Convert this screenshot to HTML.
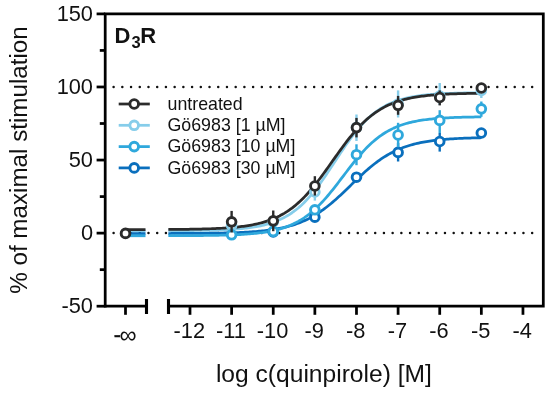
<!DOCTYPE html>
<html><head><meta charset="utf-8"><title>D3R</title>
<style>html,body{margin:0;padding:0;background:#fff}svg{display:block}</style></head>
<body>
<svg width="550" height="394" viewBox="0 0 550 394" font-family="'Liberation Sans', sans-serif" fill="#111">
<rect width="550" height="394" fill="#fff"/>
<line x1="113.6" y1="86.97" x2="536" y2="86.97" stroke="#111" stroke-width="2.5" stroke-linecap="round" stroke-dasharray="0 8.72"/>
<line x1="113.6" y1="233.12" x2="536" y2="233.12" stroke="#111" stroke-width="2.5" stroke-linecap="round" stroke-dasharray="0 8.72"/>
<path d="M125.5 230.79H145.5" fill="none" stroke="#86cdea" stroke-width="2.75"/>
<path d="M168.36 230.70L169.92 230.69L171.49 230.69L173.05 230.68L174.62 230.67L176.18 230.66L177.75 230.65L179.31 230.65L180.88 230.63L182.44 230.62L184.01 230.61L185.57 230.60L187.14 230.59L188.70 230.57L190.27 230.56L191.83 230.54L193.40 230.52L194.96 230.50L196.53 230.48L198.09 230.46L199.66 230.44L201.22 230.41L202.79 230.39L204.35 230.36L205.92 230.33L207.48 230.30L209.05 230.26L210.61 230.22L212.18 230.18L213.74 230.14L215.30 230.09L216.87 230.04L218.43 229.99L220.00 229.93L221.56 229.87L223.13 229.81L224.69 229.74L226.26 229.66L227.82 229.58L229.39 229.50L230.95 229.41L232.52 229.31L234.08 229.21L235.65 229.09L237.21 228.97L238.78 228.85L240.34 228.71L241.91 228.56L243.47 228.40L245.04 228.24L246.60 228.06L248.17 227.87L249.73 227.66L251.30 227.44L252.86 227.21L254.43 226.96L255.99 226.69L257.56 226.41L259.12 226.11L260.69 225.78L262.25 225.44L263.82 225.07L265.38 224.68L266.95 224.26L268.51 223.81L270.08 223.34L271.64 222.84L273.21 222.30L274.77 221.74L276.34 221.13L277.90 220.49L279.47 219.81L281.03 219.09L282.60 218.33L284.16 217.52L285.73 216.66L287.29 215.76L288.86 214.81L290.42 213.80L291.99 212.74L293.55 211.63L295.12 210.46L296.68 209.23L298.25 207.94L299.81 206.59L301.38 205.17L302.94 203.69L304.50 202.15L306.07 200.55L307.63 198.88L309.20 197.15L310.76 195.36L312.33 193.50L313.89 191.58L315.46 189.61L317.02 187.58L318.59 185.50L320.15 183.36L321.72 181.18L323.28 178.96L324.85 176.69L326.41 174.40L327.98 172.07L329.54 169.72L331.11 167.35L332.67 164.97L334.24 162.57L335.80 160.18L337.37 157.79L338.93 155.41L340.50 153.04L342.06 150.70L343.63 148.38L345.19 146.09L346.76 143.83L348.32 141.62L349.89 139.45L351.45 137.33L353.02 135.26L354.58 133.24L356.15 131.28L357.71 129.38L359.28 127.53L360.84 125.75L362.41 124.04L363.97 122.38L365.54 120.80L367.10 119.27L368.67 117.81L370.23 116.41L371.80 115.07L373.36 113.79L374.93 112.58L376.49 111.42L378.06 110.32L379.62 109.27L381.19 108.28L382.75 107.34L384.32 106.45L385.88 105.60L387.45 104.81L389.01 104.05L390.58 103.34L392.14 102.67L393.70 102.04L395.27 101.44L396.83 100.88L398.40 100.36L399.96 99.86L401.53 99.39L403.09 98.96L404.66 98.54L406.22 98.16L407.79 97.80L409.35 97.46L410.92 97.14L412.48 96.84L414.05 96.56L415.61 96.30L417.18 96.05L418.74 95.82L420.31 95.61L421.87 95.40L423.44 95.21L425.00 95.04L426.57 94.87L428.13 94.72L429.70 94.57L431.26 94.44L432.83 94.31L434.39 94.20L435.96 94.09L437.52 93.98L439.09 93.89L440.65 93.80L442.22 93.71L443.78 93.63L445.35 93.56L446.91 93.49L448.48 93.43L450.04 93.37L451.61 93.31L453.17 93.26L454.74 93.21L456.30 93.17L457.87 93.12L459.43 93.08L461.00 93.05L462.56 93.01L464.13 92.98L465.69 92.95L467.26 92.92L468.82 92.90L470.39 92.87L471.95 92.85L473.52 92.83L475.08 92.81L476.65 92.79L478.21 92.77L479.78 92.75L481.34 92.74" fill="none" stroke="#86cdea" stroke-width="2.75" stroke-linejoin="round"/>
<path d="M125.5 233.56H145.5" fill="none" stroke="#0a6fbd" stroke-width="2.75"/>
<path d="M168.36 233.50L169.92 233.50L171.49 233.49L173.05 233.49L174.62 233.48L176.18 233.48L177.75 233.47L179.31 233.47L180.88 233.46L182.44 233.46L184.01 233.45L185.57 233.44L187.14 233.43L188.70 233.42L190.27 233.42L191.83 233.41L193.40 233.40L194.96 233.38L196.53 233.37L198.09 233.36L199.66 233.35L201.22 233.33L202.79 233.32L204.35 233.30L205.92 233.29L207.48 233.27L209.05 233.25L210.61 233.23L212.18 233.21L213.74 233.18L215.30 233.16L216.87 233.13L218.43 233.10L220.00 233.07L221.56 233.04L223.13 233.01L224.69 232.97L226.26 232.93L227.82 232.89L229.39 232.85L230.95 232.80L232.52 232.75L234.08 232.70L235.65 232.65L237.21 232.59L238.78 232.52L240.34 232.46L241.91 232.39L243.47 232.31L245.04 232.23L246.60 232.14L248.17 232.05L249.73 231.96L251.30 231.85L252.86 231.74L254.43 231.63L255.99 231.50L257.56 231.37L259.12 231.23L260.69 231.08L262.25 230.93L263.82 230.76L265.38 230.58L266.95 230.39L268.51 230.19L270.08 229.98L271.64 229.76L273.21 229.52L274.77 229.27L276.34 229.00L277.90 228.72L279.47 228.42L281.03 228.10L282.60 227.77L284.16 227.41L285.73 227.04L287.29 226.65L288.86 226.23L290.42 225.79L291.99 225.33L293.55 224.84L295.12 224.32L296.68 223.78L298.25 223.21L299.81 222.61L301.38 221.98L302.94 221.32L304.50 220.63L306.07 219.91L307.63 219.15L309.20 218.36L310.76 217.53L312.33 216.67L313.89 215.77L315.46 214.84L317.02 213.86L318.59 212.85L320.15 211.81L321.72 210.73L323.28 209.61L324.85 208.45L326.41 207.26L327.98 206.03L329.54 204.78L331.11 203.48L332.67 202.16L334.24 200.81L335.80 199.43L337.37 198.02L338.93 196.60L340.50 195.15L342.06 193.68L343.63 192.19L345.19 190.70L346.76 189.19L348.32 187.67L349.89 186.15L351.45 184.63L353.02 183.11L354.58 181.59L356.15 180.09L357.71 178.59L359.28 177.10L360.84 175.64L362.41 174.19L363.97 172.76L365.54 171.35L367.10 169.98L368.67 168.62L370.23 167.30L371.80 166.01L373.36 164.75L374.93 163.53L376.49 162.34L378.06 161.18L379.62 160.06L381.19 158.98L382.75 157.94L384.32 156.93L385.88 155.96L387.45 155.02L389.01 154.13L390.58 153.26L392.14 152.44L393.70 151.65L395.27 150.89L396.83 150.17L398.40 149.48L399.96 148.82L401.53 148.19L403.09 147.59L404.66 147.02L406.22 146.48L407.79 145.97L409.35 145.48L410.92 145.02L412.48 144.58L414.05 144.16L415.61 143.77L417.18 143.39L418.74 143.04L420.31 142.70L421.87 142.39L423.44 142.09L425.00 141.81L426.57 141.54L428.13 141.29L429.70 141.05L431.26 140.83L432.83 140.62L434.39 140.42L435.96 140.23L437.52 140.05L439.09 139.88L440.65 139.73L442.22 139.58L443.78 139.44L445.35 139.31L446.91 139.18L448.48 139.07L450.04 138.96L451.61 138.86L453.17 138.76L454.74 138.67L456.30 138.58L457.87 138.50L459.43 138.43L461.00 138.36L462.56 138.29L464.13 138.23L465.69 138.17L467.26 138.11L468.82 138.06L470.39 138.01L471.95 137.96L473.52 137.92L475.08 137.88L476.65 137.84L478.21 137.81L479.78 137.77L481.34 137.74" fill="none" stroke="#0a6fbd" stroke-width="2.75" stroke-linejoin="round"/>
<path d="M125.5 235.76H145.5" fill="none" stroke="#2fa8dc" stroke-width="2.75"/>
<path d="M168.36 235.70L169.92 235.70L171.49 235.70L173.05 235.69L174.62 235.69L176.18 235.68L177.75 235.68L179.31 235.67L180.88 235.67L182.44 235.66L184.01 235.65L185.57 235.64L187.14 235.64L188.70 235.63L190.27 235.62L191.83 235.61L193.40 235.60L194.96 235.59L196.53 235.58L198.09 235.56L199.66 235.55L201.22 235.53L202.79 235.52L204.35 235.50L205.92 235.48L207.48 235.46L209.05 235.44L210.61 235.42L212.18 235.40L213.74 235.37L215.30 235.34L216.87 235.31L218.43 235.28L220.00 235.25L221.56 235.21L223.13 235.17L224.69 235.13L226.26 235.09L227.82 235.04L229.39 234.99L230.95 234.93L232.52 234.87L234.08 234.81L235.65 234.74L237.21 234.67L238.78 234.59L240.34 234.51L241.91 234.42L243.47 234.33L245.04 234.23L246.60 234.12L248.17 234.00L249.73 233.88L251.30 233.75L252.86 233.61L254.43 233.45L255.99 233.29L257.56 233.12L259.12 232.94L260.69 232.74L262.25 232.53L263.82 232.30L265.38 232.06L266.95 231.81L268.51 231.53L270.08 231.24L271.64 230.93L273.21 230.60L274.77 230.25L276.34 229.87L277.90 229.47L279.47 229.05L281.03 228.60L282.60 228.12L284.16 227.61L285.73 227.07L287.29 226.49L288.86 225.88L290.42 225.24L291.99 224.55L293.55 223.83L295.12 223.06L296.68 222.26L298.25 221.41L299.81 220.51L301.38 219.56L302.94 218.57L304.50 217.53L306.07 216.43L307.63 215.28L309.20 214.08L310.76 212.83L312.33 211.52L313.89 210.15L315.46 208.73L317.02 207.26L318.59 205.73L320.15 204.15L321.72 202.51L323.28 200.83L324.85 199.10L326.41 197.31L327.98 195.49L329.54 193.62L331.11 191.72L332.67 189.78L334.24 187.81L335.80 185.81L337.37 183.79L338.93 181.76L340.50 179.71L342.06 177.65L343.63 175.59L345.19 173.52L346.76 171.47L348.32 169.43L349.89 167.40L351.45 165.39L353.02 163.41L354.58 161.46L356.15 159.54L357.71 157.66L359.28 155.82L360.84 154.02L362.41 152.27L363.97 150.56L365.54 148.91L367.10 147.30L368.67 145.75L370.23 144.26L371.80 142.81L373.36 141.43L374.93 140.10L376.49 138.82L378.06 137.60L379.62 136.43L381.19 135.31L382.75 134.25L384.32 133.23L385.88 132.27L387.45 131.35L389.01 130.48L390.58 129.66L392.14 128.87L393.70 128.13L395.27 127.44L396.83 126.77L398.40 126.15L399.96 125.56L401.53 125.01L403.09 124.48L404.66 123.99L406.22 123.53L407.79 123.09L409.35 122.68L410.92 122.30L412.48 121.94L414.05 121.60L415.61 121.28L417.18 120.98L418.74 120.70L420.31 120.44L421.87 120.19L423.44 119.96L425.00 119.74L426.57 119.54L428.13 119.35L429.70 119.17L431.26 119.01L432.83 118.85L434.39 118.71L435.96 118.57L437.52 118.44L439.09 118.33L440.65 118.21L442.22 118.11L443.78 118.01L445.35 117.92L446.91 117.84L448.48 117.76L450.04 117.69L451.61 117.62L453.17 117.55L454.74 117.49L456.30 117.43L457.87 117.38L459.43 117.33L461.00 117.29L462.56 117.24L464.13 117.20L465.69 117.17L467.26 117.13L468.82 117.10L470.39 117.07L471.95 117.04L473.52 117.01L475.08 116.99L476.65 116.97L478.21 116.94L479.78 116.92L481.34 116.91" fill="none" stroke="#2fa8dc" stroke-width="2.75" stroke-linejoin="round"/>
<path d="M125.5 229.62H145.5" fill="none" stroke="#2b2b2b" stroke-width="2.75"/>
<path d="M168.36 229.47L169.92 229.46L171.49 229.45L173.05 229.43L174.62 229.42L176.18 229.41L177.75 229.39L179.31 229.38L180.88 229.36L182.44 229.35L184.01 229.33L185.57 229.31L187.14 229.29L188.70 229.27L190.27 229.24L191.83 229.22L193.40 229.19L194.96 229.16L196.53 229.13L198.09 229.10L199.66 229.06L201.22 229.03L202.79 228.99L204.35 228.95L205.92 228.90L207.48 228.85L209.05 228.80L210.61 228.75L212.18 228.69L213.74 228.63L215.30 228.56L216.87 228.49L218.43 228.42L220.00 228.34L221.56 228.25L223.13 228.16L224.69 228.07L226.26 227.96L227.82 227.85L229.39 227.74L230.95 227.61L232.52 227.48L234.08 227.34L235.65 227.19L237.21 227.03L238.78 226.86L240.34 226.68L241.91 226.48L243.47 226.28L245.04 226.06L246.60 225.83L248.17 225.58L249.73 225.32L251.30 225.04L252.86 224.75L254.43 224.43L255.99 224.10L257.56 223.74L259.12 223.37L260.69 222.97L262.25 222.55L263.82 222.10L265.38 221.62L266.95 221.12L268.51 220.59L270.08 220.02L271.64 219.43L273.21 218.80L274.77 218.13L276.34 217.43L277.90 216.69L279.47 215.91L281.03 215.09L282.60 214.22L284.16 213.32L285.73 212.36L287.29 211.36L288.86 210.30L290.42 209.20L291.99 208.05L293.55 206.84L295.12 205.58L296.68 204.27L298.25 202.90L299.81 201.48L301.38 200.00L302.94 198.47L304.50 196.88L306.07 195.23L307.63 193.54L309.20 191.79L310.76 189.98L312.33 188.13L313.89 186.23L315.46 184.29L317.02 182.30L318.59 180.27L320.15 178.21L321.72 176.11L323.28 173.98L324.85 171.83L326.41 169.65L327.98 167.46L329.54 165.25L331.11 163.04L332.67 160.82L334.24 158.60L335.80 156.39L337.37 154.19L338.93 152.01L340.50 149.84L342.06 147.69L343.63 145.58L345.19 143.49L346.76 141.44L348.32 139.43L349.89 137.46L351.45 135.54L353.02 133.66L354.58 131.83L356.15 130.05L357.71 128.32L359.28 126.64L360.84 125.02L362.41 123.46L363.97 121.95L365.54 120.49L367.10 119.09L368.67 117.75L370.23 116.46L371.80 115.22L373.36 114.04L374.93 112.91L376.49 111.83L378.06 110.79L379.62 109.81L381.19 108.88L382.75 107.99L384.32 107.14L385.88 106.34L387.45 105.57L389.01 104.85L390.58 104.16L392.14 103.51L393.70 102.90L395.27 102.32L396.83 101.77L398.40 101.25L399.96 100.76L401.53 100.29L403.09 99.86L404.66 99.44L406.22 99.05L407.79 98.69L409.35 98.34L410.92 98.02L412.48 97.71L414.05 97.42L415.61 97.15L417.18 96.89L418.74 96.65L420.31 96.43L421.87 96.22L423.44 96.02L425.00 95.83L426.57 95.65L428.13 95.49L429.70 95.33L431.26 95.18L432.83 95.05L434.39 94.92L435.96 94.80L437.52 94.68L439.09 94.58L440.65 94.48L442.22 94.38L443.78 94.30L445.35 94.21L446.91 94.13L448.48 94.06L450.04 93.99L451.61 93.93L453.17 93.87L454.74 93.81L456.30 93.76L457.87 93.71L459.43 93.66L461.00 93.62L462.56 93.58L464.13 93.54L465.69 93.51L467.26 93.47L468.82 93.44L470.39 93.41L471.95 93.38L473.52 93.36L475.08 93.33L476.65 93.31L478.21 93.29L479.78 93.27L481.34 93.25" fill="none" stroke="#2b2b2b" stroke-width="2.75" stroke-linejoin="round"/>
<line x1="314.86" y1="183.5" x2="314.86" y2="200.6" stroke="#86cdea" stroke-width="2.4"/>
<line x1="356.48" y1="114.5" x2="356.48" y2="141" stroke="#86cdea" stroke-width="2.4"/>
<line x1="398.10" y1="90.4" x2="398.10" y2="117.5" stroke="#86cdea" stroke-width="2.4"/>
<line x1="439.72" y1="83" x2="439.72" y2="105" stroke="#86cdea" stroke-width="2.4"/>
<line x1="481.34" y1="83" x2="481.34" y2="98" stroke="#86cdea" stroke-width="2.4"/>
<circle cx="231.62" cy="225.5" r="4.35" fill="#fff" stroke="#86cdea" stroke-width="2.9"/>
<circle cx="273.24" cy="222" r="4.35" fill="#fff" stroke="#86cdea" stroke-width="2.9"/>
<circle cx="314.86" cy="192" r="4.35" fill="#fff" stroke="#86cdea" stroke-width="2.9"/>
<circle cx="356.48" cy="127.5" r="4.35" fill="#fff" stroke="#86cdea" stroke-width="2.9"/>
<circle cx="398.10" cy="104" r="4.35" fill="#fff" stroke="#86cdea" stroke-width="2.9"/>
<circle cx="439.72" cy="96" r="4.35" fill="#fff" stroke="#86cdea" stroke-width="2.9"/>
<circle cx="481.34" cy="90.5" r="4.35" fill="#fff" stroke="#86cdea" stroke-width="2.9"/>
<line x1="356.48" y1="174" x2="356.48" y2="180.5" stroke="#0a6fbd" stroke-width="2.4"/>
<line x1="398.10" y1="143" x2="398.10" y2="161.5" stroke="#0a6fbd" stroke-width="2.4"/>
<line x1="439.72" y1="133" x2="439.72" y2="151.6" stroke="#0a6fbd" stroke-width="2.4"/>
<circle cx="273.24" cy="232" r="4.35" fill="#fff" stroke="#0a6fbd" stroke-width="2.9"/>
<circle cx="314.86" cy="217.2" r="4.35" fill="#fff" stroke="#0a6fbd" stroke-width="2.9"/>
<circle cx="356.48" cy="177.2" r="4.35" fill="#fff" stroke="#0a6fbd" stroke-width="2.9"/>
<circle cx="398.10" cy="152.4" r="4.35" fill="#fff" stroke="#0a6fbd" stroke-width="2.9"/>
<circle cx="439.72" cy="141.5" r="4.35" fill="#fff" stroke="#0a6fbd" stroke-width="2.9"/>
<circle cx="481.34" cy="133" r="4.35" fill="#fff" stroke="#0a6fbd" stroke-width="2.9"/>
<line x1="314.86" y1="207" x2="314.86" y2="213" stroke="#2fa8dc" stroke-width="2.4"/>
<line x1="356.48" y1="144.3" x2="356.48" y2="165.2" stroke="#2fa8dc" stroke-width="2.4"/>
<line x1="398.10" y1="122.8" x2="398.10" y2="147.2" stroke="#2fa8dc" stroke-width="2.4"/>
<line x1="439.72" y1="110.2" x2="439.72" y2="133" stroke="#2fa8dc" stroke-width="2.4"/>
<line x1="481.34" y1="101.5" x2="481.34" y2="116.8" stroke="#2fa8dc" stroke-width="2.4"/>
<circle cx="231.62" cy="234.8" r="4.35" fill="#fff" stroke="#2fa8dc" stroke-width="2.9"/>
<circle cx="273.24" cy="231.5" r="4.35" fill="#fff" stroke="#2fa8dc" stroke-width="2.9"/>
<circle cx="314.86" cy="209.8" r="4.35" fill="#fff" stroke="#2fa8dc" stroke-width="2.9"/>
<circle cx="356.48" cy="154.7" r="4.35" fill="#fff" stroke="#2fa8dc" stroke-width="2.9"/>
<circle cx="398.10" cy="135" r="4.35" fill="#fff" stroke="#2fa8dc" stroke-width="2.9"/>
<circle cx="439.72" cy="120.4" r="4.35" fill="#fff" stroke="#2fa8dc" stroke-width="2.9"/>
<circle cx="481.34" cy="108.8" r="4.35" fill="#fff" stroke="#2fa8dc" stroke-width="2.9"/>
<line x1="231.62" y1="210.9" x2="231.62" y2="232.5" stroke="#2b2b2b" stroke-width="2.4"/>
<line x1="273.24" y1="210.5" x2="273.24" y2="231.2" stroke="#2b2b2b" stroke-width="2.4"/>
<line x1="314.86" y1="176.2" x2="314.86" y2="195.5" stroke="#2b2b2b" stroke-width="2.4"/>
<line x1="356.48" y1="117.9" x2="356.48" y2="137.4" stroke="#2b2b2b" stroke-width="2.4"/>
<line x1="398.10" y1="95.9" x2="398.10" y2="114.8" stroke="#2b2b2b" stroke-width="2.4"/>
<line x1="439.72" y1="90.4" x2="439.72" y2="105.4" stroke="#2b2b2b" stroke-width="2.4"/>
<circle cx="125.50" cy="233.4" r="4.35" fill="#fff" stroke="#2b2b2b" stroke-width="2.9"/>
<circle cx="231.62" cy="221.8" r="4.35" fill="#fff" stroke="#2b2b2b" stroke-width="2.9"/>
<circle cx="273.24" cy="220.8" r="4.35" fill="#fff" stroke="#2b2b2b" stroke-width="2.9"/>
<circle cx="314.86" cy="186" r="4.35" fill="#fff" stroke="#2b2b2b" stroke-width="2.9"/>
<circle cx="356.48" cy="127.6" r="4.35" fill="#fff" stroke="#2b2b2b" stroke-width="2.9"/>
<circle cx="398.10" cy="105.3" r="4.35" fill="#fff" stroke="#2b2b2b" stroke-width="2.9"/>
<circle cx="439.72" cy="97.5" r="4.35" fill="#fff" stroke="#2b2b2b" stroke-width="2.9"/>
<circle cx="481.34" cy="88" r="4.35" fill="#fff" stroke="#2b2b2b" stroke-width="2.9"/>
<path d="M105.2 307.575V13.9H543.3V306.2H168.5" fill="none" stroke="#000" stroke-width="2.75" stroke-linejoin="miter"/>
<path d="M105.2 306.2H146.5" fill="none" stroke="#000" stroke-width="2.75"/>
<path d="M146.5 298.9V313.9M168.5 298.9V313.9" fill="none" stroke="#000" stroke-width="3.1"/>
<line x1="96.6" x2="105.2" y1="13.90" y2="13.90" stroke="#000" stroke-width="2.75"/>
<text x="93" y="20.90" font-size="21.8" text-anchor="end">150</text>
<line x1="96.6" x2="105.2" y1="86.97" y2="86.97" stroke="#000" stroke-width="2.75"/>
<text x="93" y="93.97" font-size="21.8" text-anchor="end">100</text>
<line x1="96.6" x2="105.2" y1="160.05" y2="160.05" stroke="#000" stroke-width="2.75"/>
<text x="93" y="167.05" font-size="21.8" text-anchor="end">50</text>
<line x1="96.6" x2="105.2" y1="233.12" y2="233.12" stroke="#000" stroke-width="2.75"/>
<text x="93" y="240.12" font-size="21.8" text-anchor="end">0</text>
<line x1="96.6" x2="105.2" y1="306.20" y2="306.20" stroke="#000" stroke-width="2.75"/>
<text x="93" y="313.20" font-size="21.8" text-anchor="end">-50</text>
<line x1="99.8" x2="105.2" y1="50.44" y2="50.44" stroke="#000" stroke-width="2.75"/>
<line x1="99.8" x2="105.2" y1="123.51" y2="123.51" stroke="#000" stroke-width="2.75"/>
<line x1="99.8" x2="105.2" y1="196.59" y2="196.59" stroke="#000" stroke-width="2.75"/>
<line x1="99.8" x2="105.2" y1="269.66" y2="269.66" stroke="#000" stroke-width="2.75"/>
<line x1="190.00" x2="190.00" y1="306.2" y2="314.8" stroke="#000" stroke-width="2.75"/>
<text x="189.30" y="338.4" font-size="21.8" text-anchor="middle">-12</text>
<line x1="231.62" x2="231.62" y1="306.2" y2="314.8" stroke="#000" stroke-width="2.75"/>
<text x="230.92" y="338.4" font-size="21.8" text-anchor="middle">-11</text>
<line x1="273.24" x2="273.24" y1="306.2" y2="314.8" stroke="#000" stroke-width="2.75"/>
<text x="272.54" y="338.4" font-size="21.8" text-anchor="middle">-10</text>
<line x1="314.86" x2="314.86" y1="306.2" y2="314.8" stroke="#000" stroke-width="2.75"/>
<text x="314.16" y="338.4" font-size="21.8" text-anchor="middle">-9</text>
<line x1="356.48" x2="356.48" y1="306.2" y2="314.8" stroke="#000" stroke-width="2.75"/>
<text x="355.78" y="338.4" font-size="21.8" text-anchor="middle">-8</text>
<line x1="398.10" x2="398.10" y1="306.2" y2="314.8" stroke="#000" stroke-width="2.75"/>
<text x="397.40" y="338.4" font-size="21.8" text-anchor="middle">-7</text>
<line x1="439.72" x2="439.72" y1="306.2" y2="314.8" stroke="#000" stroke-width="2.75"/>
<text x="439.02" y="338.4" font-size="21.8" text-anchor="middle">-6</text>
<line x1="481.34" x2="481.34" y1="306.2" y2="314.8" stroke="#000" stroke-width="2.75"/>
<text x="480.64" y="338.4" font-size="21.8" text-anchor="middle">-5</text>
<line x1="522.96" x2="522.96" y1="306.2" y2="314.8" stroke="#000" stroke-width="2.75"/>
<text x="522.26" y="338.4" font-size="21.8" text-anchor="middle">-4</text>
<line x1="125.5" x2="125.5" y1="306.2" y2="314.8" stroke="#000" stroke-width="2.75"/>
<text x="113.7" y="341.7" font-size="21.5" stroke="#111" stroke-width="0.4">-</text><text x="119.5" y="343.1" font-size="24">∞</text>
<text x="323.9" y="381.8" font-size="24.6" text-anchor="middle">log c(quinpirole) [M]</text>
<text transform="translate(27 160) rotate(-90)" font-size="24.2" text-anchor="middle">% of maximal stimulation</text>
<text y="43.4" font-size="22" font-weight="bold"><tspan x="114.5">D</tspan><tspan x="131.4" y="47.7" font-size="16.5">3</tspan><tspan x="140.2" y="43.4">R</tspan></text>
<line x1="118.7" x2="149.8" y1="104.0" y2="104.0" stroke="#2b2b2b" stroke-width="2.75"/>
<circle cx="134.2" cy="104.0" r="4.35" fill="#fff" stroke="#2b2b2b" stroke-width="2.9"/>
<text x="167.5" y="109.6" font-size="17.8">untreated</text>
<line x1="118.7" x2="149.8" y1="125.3" y2="125.3" stroke="#86cdea" stroke-width="2.75"/>
<circle cx="134.2" cy="125.3" r="4.35" fill="#fff" stroke="#86cdea" stroke-width="2.9"/>
<text x="167.5" y="130.9" font-size="17.8">Gö6983 [1 µM]</text>
<line x1="118.7" x2="149.8" y1="146.6" y2="146.6" stroke="#2fa8dc" stroke-width="2.75"/>
<circle cx="134.2" cy="146.6" r="4.35" fill="#fff" stroke="#2fa8dc" stroke-width="2.9"/>
<text x="167.5" y="152.2" font-size="17.8">Gö6983 [10 µM]</text>
<line x1="118.7" x2="149.8" y1="167.9" y2="167.9" stroke="#0a6fbd" stroke-width="2.75"/>
<circle cx="134.2" cy="167.9" r="4.35" fill="#fff" stroke="#0a6fbd" stroke-width="2.9"/>
<text x="167.5" y="173.5" font-size="17.8">Gö6983 [30 µM]</text>
</svg>
</body></html>
